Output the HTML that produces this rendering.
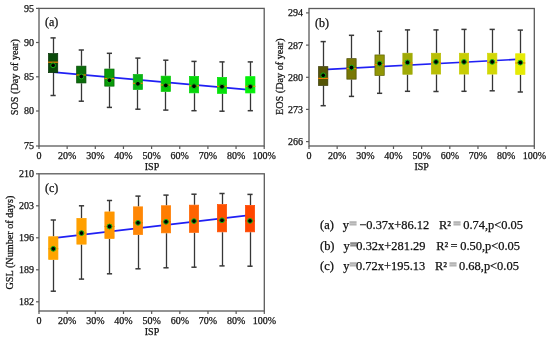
<!DOCTYPE html><html><head><meta charset="utf-8"><style>html,body{margin:0;padding:0;background:#fff;width:550px;height:340px;overflow:hidden}svg{display:block}</style></head><body>
<svg width="550" height="340" viewBox="0 0 550 340" font-family='"Liberation Serif", serif'>
<style>text{stroke:currentColor;stroke-width:0.25px}</style>
<rect width="550" height="340" fill="#fff"/>
<line x1="53.1" y1="72.1" x2="250" y2="89.85" stroke="#2020f4" stroke-width="1.7"/>
<line x1="53.5" y1="37.9" x2="53.5" y2="53.2" stroke="#363636" stroke-width="1.3"/>
<line x1="53.5" y1="73" x2="53.5" y2="95.5" stroke="#363636" stroke-width="1.3"/>
<line x1="50.5" y1="37.9" x2="55.7" y2="37.9" stroke="#383838" stroke-width="1.5"/>
<line x1="50.5" y1="95.5" x2="55.7" y2="95.5" stroke="#383838" stroke-width="1.5"/>
<rect x="48.45" y="53.55" width="9.3" height="19.1" fill="#0a4b0a" stroke="#063006" stroke-width="0.7"/>
<line x1="48.1" y1="62.2" x2="58.1" y2="62.2" stroke="#f08000" stroke-width="1.2"/>
<circle cx="53.1" cy="65.3" r="2.4" fill="#000" stroke="#14b414" stroke-width="1.0"/>
<line x1="81.5" y1="50" x2="81.5" y2="65.8" stroke="#363636" stroke-width="1.3"/>
<line x1="81.5" y1="83.3" x2="81.5" y2="101.2" stroke="#363636" stroke-width="1.3"/>
<line x1="78.7" y1="50" x2="83.9" y2="50" stroke="#383838" stroke-width="1.5"/>
<line x1="78.7" y1="101.2" x2="83.9" y2="101.2" stroke="#383838" stroke-width="1.5"/>
<rect x="76.65" y="66.15" width="9.3" height="16.8" fill="#0a6e0a" stroke="#064706" stroke-width="0.7"/>
<line x1="76.3" y1="75" x2="86.3" y2="75" stroke="#f08000" stroke-width="1.2"/>
<circle cx="81.3" cy="76.5" r="2.4" fill="#000" stroke="#14b414" stroke-width="1.0"/>
<line x1="109.5" y1="53.3" x2="109.5" y2="68.7" stroke="#363636" stroke-width="1.3"/>
<line x1="109.5" y1="86.5" x2="109.5" y2="107.4" stroke="#363636" stroke-width="1.3"/>
<line x1="106.8" y1="53.3" x2="112" y2="53.3" stroke="#383838" stroke-width="1.5"/>
<line x1="106.8" y1="107.4" x2="112" y2="107.4" stroke="#383838" stroke-width="1.5"/>
<rect x="104.75" y="69.05" width="9.3" height="17.1" fill="#0a9b0a" stroke="#066406" stroke-width="0.7"/>
<line x1="104.4" y1="78.5" x2="114.4" y2="78.5" stroke="#f08000" stroke-width="1.2"/>
<circle cx="109.4" cy="80.3" r="2.4" fill="#000" stroke="#14b414" stroke-width="1.0"/>
<line x1="137.5" y1="58.1" x2="137.5" y2="74.1" stroke="#363636" stroke-width="1.3"/>
<line x1="137.5" y1="89.9" x2="137.5" y2="109.2" stroke="#363636" stroke-width="1.3"/>
<line x1="135.3" y1="58.1" x2="140.5" y2="58.1" stroke="#383838" stroke-width="1.5"/>
<line x1="135.3" y1="109.2" x2="140.5" y2="109.2" stroke="#383838" stroke-width="1.5"/>
<rect x="133.25" y="74.45" width="9.3" height="15.1" fill="#0ab414" stroke="#0ab414" stroke-width="0.7"/>
<line x1="132.9" y1="83.3" x2="142.9" y2="83.3" stroke="#f08000" stroke-width="1.2"/>
<circle cx="137.9" cy="83.8" r="2.4" fill="#000" stroke="#14b414" stroke-width="1.0"/>
<line x1="165.5" y1="60.2" x2="165.5" y2="75.8" stroke="#363636" stroke-width="1.3"/>
<line x1="165.5" y1="91.8" x2="165.5" y2="110.1" stroke="#363636" stroke-width="1.3"/>
<line x1="163.2" y1="60.2" x2="168.4" y2="60.2" stroke="#383838" stroke-width="1.5"/>
<line x1="163.2" y1="110.1" x2="168.4" y2="110.1" stroke="#383838" stroke-width="1.5"/>
<rect x="161.15" y="76.15" width="9.3" height="15.3" fill="#05c805" stroke="#05c805" stroke-width="0.7"/>
<line x1="160.8" y1="85" x2="170.8" y2="85" stroke="#f08000" stroke-width="1.2"/>
<circle cx="165.8" cy="85.4" r="2.4" fill="#000" stroke="#14b414" stroke-width="1.0"/>
<line x1="194.5" y1="61.4" x2="194.5" y2="76" stroke="#363636" stroke-width="1.3"/>
<line x1="194.5" y1="93.2" x2="194.5" y2="110.7" stroke="#363636" stroke-width="1.3"/>
<line x1="191.4" y1="61.4" x2="196.6" y2="61.4" stroke="#383838" stroke-width="1.5"/>
<line x1="191.4" y1="110.7" x2="196.6" y2="110.7" stroke="#383838" stroke-width="1.5"/>
<rect x="189.35" y="76.35" width="9.3" height="16.5" fill="#05d70a" stroke="#05d70a" stroke-width="0.7"/>
<line x1="189" y1="85.8" x2="199" y2="85.8" stroke="#f08000" stroke-width="1.2"/>
<circle cx="194" cy="86.2" r="2.4" fill="#000" stroke="#14b414" stroke-width="1.0"/>
<line x1="222.5" y1="61.9" x2="222.5" y2="77" stroke="#363636" stroke-width="1.3"/>
<line x1="222.5" y1="93.7" x2="222.5" y2="111.2" stroke="#363636" stroke-width="1.3"/>
<line x1="219.4" y1="61.9" x2="224.6" y2="61.9" stroke="#383838" stroke-width="1.5"/>
<line x1="219.4" y1="111.2" x2="224.6" y2="111.2" stroke="#383838" stroke-width="1.5"/>
<rect x="217.35" y="77.35" width="9.3" height="16" fill="#05e10a" stroke="#05e10a" stroke-width="0.7"/>
<line x1="217" y1="86.3" x2="227" y2="86.3" stroke="#f08000" stroke-width="1.2"/>
<circle cx="222" cy="86.7" r="2.4" fill="#000" stroke="#14b414" stroke-width="1.0"/>
<line x1="250.5" y1="61.9" x2="250.5" y2="76.3" stroke="#363636" stroke-width="1.3"/>
<line x1="250.5" y1="93.3" x2="250.5" y2="110.7" stroke="#363636" stroke-width="1.3"/>
<line x1="247.7" y1="61.9" x2="252.9" y2="61.9" stroke="#383838" stroke-width="1.5"/>
<line x1="247.7" y1="110.7" x2="252.9" y2="110.7" stroke="#383838" stroke-width="1.5"/>
<rect x="245.65" y="76.65" width="9.3" height="16.3" fill="#05f00a" stroke="#05f00a" stroke-width="0.7"/>
<line x1="245.3" y1="86.3" x2="255.3" y2="86.3" stroke="#f08000" stroke-width="1.2"/>
<circle cx="250.3" cy="86.7" r="2.4" fill="#000" stroke="#14b414" stroke-width="1.0"/>
<rect x="39" y="8.4" width="225.2" height="137.6" fill="none" stroke="#5a5a5a" stroke-width="1.3"/>
<line x1="36" y1="8.4" x2="39" y2="8.4" stroke="#5a5a5a" stroke-width="1.2"/>
<text x="34" y="11.8" font-size="10" text-anchor="end" fill="#111" color="#111">95</text>
<line x1="36" y1="42.5" x2="39" y2="42.5" stroke="#5a5a5a" stroke-width="1.2"/>
<text x="34" y="45.9" font-size="10" text-anchor="end" fill="#111" color="#111">90</text>
<line x1="36" y1="76.8" x2="39" y2="76.8" stroke="#5a5a5a" stroke-width="1.2"/>
<text x="34" y="80.2" font-size="10" text-anchor="end" fill="#111" color="#111">85</text>
<line x1="36" y1="111" x2="39" y2="111" stroke="#5a5a5a" stroke-width="1.2"/>
<text x="34" y="114.4" font-size="10" text-anchor="end" fill="#111" color="#111">80</text>
<line x1="36" y1="146" x2="39" y2="146" stroke="#5a5a5a" stroke-width="1.2"/>
<text x="34" y="149.4" font-size="10" text-anchor="end" fill="#111" color="#111">75</text>
<line x1="39" y1="146" x2="39" y2="149" stroke="#5a5a5a" stroke-width="1.2"/>
<text x="39" y="158.5" font-size="10" text-anchor="middle" fill="#111" color="#111">0</text>
<line x1="67.15" y1="146" x2="67.15" y2="149" stroke="#5a5a5a" stroke-width="1.2"/>
<text x="67.15" y="158.5" font-size="10" text-anchor="middle" fill="#111" color="#111">20%</text>
<line x1="95.3" y1="146" x2="95.3" y2="149" stroke="#5a5a5a" stroke-width="1.2"/>
<text x="95.3" y="158.5" font-size="10" text-anchor="middle" fill="#111" color="#111">30%</text>
<line x1="123.45" y1="146" x2="123.45" y2="149" stroke="#5a5a5a" stroke-width="1.2"/>
<text x="123.45" y="158.5" font-size="10" text-anchor="middle" fill="#111" color="#111">40%</text>
<line x1="151.6" y1="146" x2="151.6" y2="149" stroke="#5a5a5a" stroke-width="1.2"/>
<text x="151.6" y="158.5" font-size="10" text-anchor="middle" fill="#111" color="#111">50%</text>
<line x1="179.75" y1="146" x2="179.75" y2="149" stroke="#5a5a5a" stroke-width="1.2"/>
<text x="179.75" y="158.5" font-size="10" text-anchor="middle" fill="#111" color="#111">60%</text>
<line x1="207.9" y1="146" x2="207.9" y2="149" stroke="#5a5a5a" stroke-width="1.2"/>
<text x="207.9" y="158.5" font-size="10" text-anchor="middle" fill="#111" color="#111">70%</text>
<line x1="236.05" y1="146" x2="236.05" y2="149" stroke="#5a5a5a" stroke-width="1.2"/>
<text x="236.05" y="158.5" font-size="10" text-anchor="middle" fill="#111" color="#111">80%</text>
<line x1="264.2" y1="146" x2="264.2" y2="149" stroke="#5a5a5a" stroke-width="1.2"/>
<text x="264.2" y="158.5" font-size="10" text-anchor="middle" fill="#111" color="#111">100%</text>
<text x="152" y="169.7" font-size="10" text-anchor="middle" fill="#111" color="#111">ISP</text>
<text x="45" y="26" font-size="12" fill="#111" color="#111">(a)</text>
<text transform="translate(17.6 77.2) rotate(-90)" font-size="10.2" text-anchor="middle" fill="#111" color="#111">SOS (Day of year)</text>
<line x1="323.2" y1="69.6" x2="520" y2="59.2" stroke="#2020f4" stroke-width="1.7"/>
<line x1="323.5" y1="41.6" x2="323.5" y2="66.3" stroke="#363636" stroke-width="1.3"/>
<line x1="323.5" y1="85.8" x2="323.5" y2="105.7" stroke="#363636" stroke-width="1.3"/>
<line x1="320.6" y1="41.6" x2="325.8" y2="41.6" stroke="#383838" stroke-width="1.5"/>
<line x1="320.6" y1="105.7" x2="325.8" y2="105.7" stroke="#383838" stroke-width="1.5"/>
<rect x="318.55" y="66.65" width="9.3" height="18.8" fill="#555505" stroke="#373703" stroke-width="0.7"/>
<line x1="318.2" y1="78.4" x2="328.2" y2="78.4" stroke="#f08000" stroke-width="1.2"/>
<circle cx="323.2" cy="75.3" r="2.4" fill="#000" stroke="#14b414" stroke-width="1.0"/>
<line x1="351.5" y1="35.3" x2="351.5" y2="58.3" stroke="#363636" stroke-width="1.3"/>
<line x1="351.5" y1="79.5" x2="351.5" y2="96.4" stroke="#363636" stroke-width="1.3"/>
<line x1="348.9" y1="35.3" x2="354.1" y2="35.3" stroke="#383838" stroke-width="1.5"/>
<line x1="348.9" y1="96.4" x2="354.1" y2="96.4" stroke="#383838" stroke-width="1.5"/>
<rect x="346.85" y="58.65" width="9.3" height="20.5" fill="#787805" stroke="#4e4e03" stroke-width="0.7"/>
<line x1="346.5" y1="68.6" x2="356.5" y2="68.6" stroke="#f08000" stroke-width="1.2"/>
<circle cx="351.5" cy="67.6" r="2.4" fill="#000" stroke="#14b414" stroke-width="1.0"/>
<line x1="379.5" y1="31.3" x2="379.5" y2="54.6" stroke="#363636" stroke-width="1.3"/>
<line x1="379.5" y1="75.8" x2="379.5" y2="93.3" stroke="#363636" stroke-width="1.3"/>
<line x1="377" y1="31.3" x2="382.2" y2="31.3" stroke="#383838" stroke-width="1.5"/>
<line x1="377" y1="93.3" x2="382.2" y2="93.3" stroke="#383838" stroke-width="1.5"/>
<rect x="374.95" y="54.95" width="9.3" height="20.5" fill="#919605" stroke="#5e6103" stroke-width="0.7"/>
<line x1="374.6" y1="64.7" x2="384.6" y2="64.7" stroke="#f08000" stroke-width="1.2"/>
<circle cx="379.6" cy="63.6" r="2.4" fill="#000" stroke="#14b414" stroke-width="1.0"/>
<line x1="407.5" y1="29.9" x2="407.5" y2="52.9" stroke="#363636" stroke-width="1.3"/>
<line x1="407.5" y1="74.6" x2="407.5" y2="91.3" stroke="#363636" stroke-width="1.3"/>
<line x1="404.9" y1="29.9" x2="410.1" y2="29.9" stroke="#383838" stroke-width="1.5"/>
<line x1="404.9" y1="91.3" x2="410.1" y2="91.3" stroke="#383838" stroke-width="1.5"/>
<rect x="402.85" y="53.25" width="9.3" height="21" fill="#a0aa05" stroke="#a0aa05" stroke-width="0.7"/>
<line x1="402.5" y1="63" x2="412.5" y2="63" stroke="#f08000" stroke-width="1.2"/>
<circle cx="407.5" cy="62.4" r="2.4" fill="#000" stroke="#14b414" stroke-width="1.0"/>
<line x1="436.5" y1="29.9" x2="436.5" y2="52.9" stroke="#363636" stroke-width="1.3"/>
<line x1="436.5" y1="74.4" x2="436.5" y2="91.5" stroke="#363636" stroke-width="1.3"/>
<line x1="433.4" y1="29.9" x2="438.6" y2="29.9" stroke="#383838" stroke-width="1.5"/>
<line x1="433.4" y1="91.5" x2="438.6" y2="91.5" stroke="#383838" stroke-width="1.5"/>
<rect x="431.35" y="53.25" width="9.3" height="20.8" fill="#b9be05" stroke="#b9be05" stroke-width="0.7"/>
<line x1="431" y1="62.5" x2="441" y2="62.5" stroke="#f08000" stroke-width="1.2"/>
<circle cx="436" cy="61.9" r="2.4" fill="#000" stroke="#14b414" stroke-width="1.0"/>
<line x1="464.5" y1="29.4" x2="464.5" y2="52.9" stroke="#363636" stroke-width="1.3"/>
<line x1="464.5" y1="74.4" x2="464.5" y2="91.3" stroke="#363636" stroke-width="1.3"/>
<line x1="461.4" y1="29.4" x2="466.6" y2="29.4" stroke="#383838" stroke-width="1.5"/>
<line x1="461.4" y1="91.3" x2="466.6" y2="91.3" stroke="#383838" stroke-width="1.5"/>
<rect x="459.35" y="53.25" width="9.3" height="20.8" fill="#c8cd05" stroke="#c8cd05" stroke-width="0.7"/>
<line x1="459" y1="62.5" x2="469" y2="62.5" stroke="#f08000" stroke-width="1.2"/>
<circle cx="464" cy="61.9" r="2.4" fill="#000" stroke="#14b414" stroke-width="1.0"/>
<line x1="492.5" y1="29.4" x2="492.5" y2="52.9" stroke="#363636" stroke-width="1.3"/>
<line x1="492.5" y1="74.4" x2="492.5" y2="90.8" stroke="#363636" stroke-width="1.3"/>
<line x1="489.6" y1="29.4" x2="494.8" y2="29.4" stroke="#383838" stroke-width="1.5"/>
<line x1="489.6" y1="90.8" x2="494.8" y2="90.8" stroke="#383838" stroke-width="1.5"/>
<rect x="487.55" y="53.25" width="9.3" height="20.8" fill="#d2d705" stroke="#d2d705" stroke-width="0.7"/>
<line x1="487.2" y1="62.5" x2="497.2" y2="62.5" stroke="#f08000" stroke-width="1.2"/>
<circle cx="492.2" cy="61.9" r="2.4" fill="#000" stroke="#14b414" stroke-width="1.0"/>
<line x1="520.5" y1="30.1" x2="520.5" y2="53.4" stroke="#363636" stroke-width="1.3"/>
<line x1="520.5" y1="74.8" x2="520.5" y2="92" stroke="#363636" stroke-width="1.3"/>
<line x1="517.7" y1="30.1" x2="522.9" y2="30.1" stroke="#383838" stroke-width="1.5"/>
<line x1="517.7" y1="92" x2="522.9" y2="92" stroke="#383838" stroke-width="1.5"/>
<rect x="515.65" y="53.75" width="9.3" height="20.7" fill="#e6eb05" stroke="#e6eb05" stroke-width="0.7"/>
<line x1="515.3" y1="63" x2="525.3" y2="63" stroke="#f08000" stroke-width="1.2"/>
<circle cx="520.3" cy="62.6" r="2.4" fill="#000" stroke="#14b414" stroke-width="1.0"/>
<rect x="309" y="8.5" width="225.3" height="137.5" fill="none" stroke="#5a5a5a" stroke-width="1.3"/>
<line x1="306" y1="12.9" x2="309" y2="12.9" stroke="#5a5a5a" stroke-width="1.2"/>
<text x="303.1" y="16.3" font-size="10" text-anchor="end" fill="#111" color="#111">294</text>
<line x1="306" y1="45.1" x2="309" y2="45.1" stroke="#5a5a5a" stroke-width="1.2"/>
<text x="303.1" y="48.5" font-size="10" text-anchor="end" fill="#111" color="#111">287</text>
<line x1="306" y1="77.3" x2="309" y2="77.3" stroke="#5a5a5a" stroke-width="1.2"/>
<text x="303.1" y="80.7" font-size="10" text-anchor="end" fill="#111" color="#111">280</text>
<line x1="306" y1="109.4" x2="309" y2="109.4" stroke="#5a5a5a" stroke-width="1.2"/>
<text x="303.1" y="112.8" font-size="10" text-anchor="end" fill="#111" color="#111">273</text>
<line x1="306" y1="141.6" x2="309" y2="141.6" stroke="#5a5a5a" stroke-width="1.2"/>
<text x="303.1" y="145" font-size="10" text-anchor="end" fill="#111" color="#111">266</text>
<line x1="309" y1="146" x2="309" y2="149" stroke="#5a5a5a" stroke-width="1.2"/>
<text x="309" y="158.5" font-size="10" text-anchor="middle" fill="#111" color="#111">0</text>
<line x1="337.16" y1="146" x2="337.16" y2="149" stroke="#5a5a5a" stroke-width="1.2"/>
<text x="337.16" y="158.5" font-size="10" text-anchor="middle" fill="#111" color="#111">20%</text>
<line x1="365.32" y1="146" x2="365.32" y2="149" stroke="#5a5a5a" stroke-width="1.2"/>
<text x="365.32" y="158.5" font-size="10" text-anchor="middle" fill="#111" color="#111">30%</text>
<line x1="393.49" y1="146" x2="393.49" y2="149" stroke="#5a5a5a" stroke-width="1.2"/>
<text x="393.49" y="158.5" font-size="10" text-anchor="middle" fill="#111" color="#111">40%</text>
<line x1="421.65" y1="146" x2="421.65" y2="149" stroke="#5a5a5a" stroke-width="1.2"/>
<text x="421.65" y="158.5" font-size="10" text-anchor="middle" fill="#111" color="#111">50%</text>
<line x1="449.81" y1="146" x2="449.81" y2="149" stroke="#5a5a5a" stroke-width="1.2"/>
<text x="449.81" y="158.5" font-size="10" text-anchor="middle" fill="#111" color="#111">60%</text>
<line x1="477.97" y1="146" x2="477.97" y2="149" stroke="#5a5a5a" stroke-width="1.2"/>
<text x="477.97" y="158.5" font-size="10" text-anchor="middle" fill="#111" color="#111">70%</text>
<line x1="506.14" y1="146" x2="506.14" y2="149" stroke="#5a5a5a" stroke-width="1.2"/>
<text x="506.14" y="158.5" font-size="10" text-anchor="middle" fill="#111" color="#111">80%</text>
<line x1="534.3" y1="146" x2="534.3" y2="149" stroke="#5a5a5a" stroke-width="1.2"/>
<text x="534.3" y="158.5" font-size="10" text-anchor="middle" fill="#111" color="#111">100%</text>
<text x="421.7" y="169.7" font-size="10" text-anchor="middle" fill="#111" color="#111">ISP</text>
<text x="315" y="27" font-size="12" fill="#111" color="#111">(b)</text>
<text transform="translate(283.3 76.7) rotate(-90)" font-size="10.2" text-anchor="middle" fill="#111" color="#111">EOS (Day of year)</text>
<line x1="53.3" y1="238.2" x2="250" y2="215.15" stroke="#2020f4" stroke-width="1.7"/>
<line x1="53.5" y1="220" x2="53.5" y2="236.4" stroke="#363636" stroke-width="1.3"/>
<line x1="53.5" y1="259.8" x2="53.5" y2="291.2" stroke="#363636" stroke-width="1.3"/>
<line x1="50.7" y1="220" x2="55.9" y2="220" stroke="#383838" stroke-width="1.5"/>
<line x1="50.7" y1="291.2" x2="55.9" y2="291.2" stroke="#383838" stroke-width="1.5"/>
<rect x="48.65" y="236.75" width="9.3" height="22.7" fill="#ffa500" stroke="#ffa500" stroke-width="0.7"/>
<line x1="48.3" y1="248.8" x2="58.3" y2="248.8" stroke="#ed9900" stroke-width="1.2"/>
<circle cx="53.3" cy="248.8" r="2.4" fill="#000" stroke="#14b414" stroke-width="1.0"/>
<line x1="81.5" y1="205.8" x2="81.5" y2="218" stroke="#363636" stroke-width="1.3"/>
<line x1="81.5" y1="244.5" x2="81.5" y2="279.1" stroke="#363636" stroke-width="1.3"/>
<line x1="78.9" y1="205.8" x2="84.1" y2="205.8" stroke="#383838" stroke-width="1.5"/>
<line x1="78.9" y1="279.1" x2="84.1" y2="279.1" stroke="#383838" stroke-width="1.5"/>
<rect x="76.85" y="218.35" width="9.3" height="25.8" fill="#ffa000" stroke="#ffa000" stroke-width="0.7"/>
<line x1="76.5" y1="233.1" x2="86.5" y2="233.1" stroke="#ed9400" stroke-width="1.2"/>
<circle cx="81.5" cy="233.1" r="2.4" fill="#000" stroke="#14b414" stroke-width="1.0"/>
<line x1="109.5" y1="200.5" x2="109.5" y2="211.6" stroke="#363636" stroke-width="1.3"/>
<line x1="109.5" y1="238.9" x2="109.5" y2="273.8" stroke="#363636" stroke-width="1.3"/>
<line x1="106.9" y1="200.5" x2="112.1" y2="200.5" stroke="#383838" stroke-width="1.5"/>
<line x1="106.9" y1="273.8" x2="112.1" y2="273.8" stroke="#383838" stroke-width="1.5"/>
<rect x="104.85" y="211.95" width="9.3" height="26.6" fill="#ff9600" stroke="#ff9600" stroke-width="0.7"/>
<line x1="104.5" y1="226.5" x2="114.5" y2="226.5" stroke="#ed8b00" stroke-width="1.2"/>
<circle cx="109.5" cy="226.5" r="2.4" fill="#000" stroke="#14b414" stroke-width="1.0"/>
<line x1="138.5" y1="196.1" x2="138.5" y2="206.5" stroke="#363636" stroke-width="1.3"/>
<line x1="138.5" y1="234.9" x2="138.5" y2="268.8" stroke="#363636" stroke-width="1.3"/>
<line x1="135.4" y1="196.1" x2="140.6" y2="196.1" stroke="#383838" stroke-width="1.5"/>
<line x1="135.4" y1="268.8" x2="140.6" y2="268.8" stroke="#383838" stroke-width="1.5"/>
<rect x="133.35" y="206.85" width="9.3" height="27.7" fill="#ff8705" stroke="#ff8705" stroke-width="0.7"/>
<line x1="133" y1="222.8" x2="143" y2="222.8" stroke="#ed7d04" stroke-width="1.2"/>
<circle cx="138" cy="222.8" r="2.4" fill="#000" stroke="#14b414" stroke-width="1.0"/>
<line x1="166.5" y1="195.1" x2="166.5" y2="205.4" stroke="#363636" stroke-width="1.3"/>
<line x1="166.5" y1="233.2" x2="166.5" y2="267.8" stroke="#363636" stroke-width="1.3"/>
<line x1="163.4" y1="195.1" x2="168.6" y2="195.1" stroke="#383838" stroke-width="1.5"/>
<line x1="163.4" y1="267.8" x2="168.6" y2="267.8" stroke="#383838" stroke-width="1.5"/>
<rect x="161.35" y="205.75" width="9.3" height="27.1" fill="#ff7d00" stroke="#ff7d00" stroke-width="0.7"/>
<line x1="161" y1="221.8" x2="171" y2="221.8" stroke="#ed7400" stroke-width="1.2"/>
<circle cx="166" cy="221.8" r="2.4" fill="#000" stroke="#14b414" stroke-width="1.0"/>
<line x1="194.5" y1="194.2" x2="194.5" y2="204.8" stroke="#363636" stroke-width="1.3"/>
<line x1="194.5" y1="232.7" x2="194.5" y2="267.2" stroke="#363636" stroke-width="1.3"/>
<line x1="191.4" y1="194.2" x2="196.6" y2="194.2" stroke="#383838" stroke-width="1.5"/>
<line x1="191.4" y1="267.2" x2="196.6" y2="267.2" stroke="#383838" stroke-width="1.5"/>
<rect x="189.35" y="205.15" width="9.3" height="27.2" fill="#ff6400" stroke="#ff6400" stroke-width="0.7"/>
<line x1="189" y1="221.1" x2="199" y2="221.1" stroke="#ed5d00" stroke-width="1.2"/>
<circle cx="194" cy="221.1" r="2.4" fill="#000" stroke="#14b414" stroke-width="1.0"/>
<line x1="222.5" y1="193.5" x2="222.5" y2="204.2" stroke="#363636" stroke-width="1.3"/>
<line x1="222.5" y1="232.2" x2="222.5" y2="265.9" stroke="#363636" stroke-width="1.3"/>
<line x1="219.4" y1="193.5" x2="224.6" y2="193.5" stroke="#383838" stroke-width="1.5"/>
<line x1="219.4" y1="265.9" x2="224.6" y2="265.9" stroke="#383838" stroke-width="1.5"/>
<rect x="217.35" y="204.55" width="9.3" height="27.3" fill="#ff5000" stroke="#ff5000" stroke-width="0.7"/>
<line x1="217" y1="220.3" x2="227" y2="220.3" stroke="#ed4a00" stroke-width="1.2"/>
<circle cx="222" cy="220.3" r="2.4" fill="#000" stroke="#14b414" stroke-width="1.0"/>
<line x1="250.5" y1="194.4" x2="250.5" y2="205" stroke="#363636" stroke-width="1.3"/>
<line x1="250.5" y1="232.2" x2="250.5" y2="266.2" stroke="#363636" stroke-width="1.3"/>
<line x1="247.4" y1="194.4" x2="252.6" y2="194.4" stroke="#383838" stroke-width="1.5"/>
<line x1="247.4" y1="266.2" x2="252.6" y2="266.2" stroke="#383838" stroke-width="1.5"/>
<rect x="245.35" y="205.35" width="9.3" height="26.5" fill="#ff4600" stroke="#ff4600" stroke-width="0.7"/>
<line x1="245" y1="220.9" x2="255" y2="220.9" stroke="#ed4100" stroke-width="1.2"/>
<circle cx="250" cy="220.9" r="2.4" fill="#000" stroke="#14b414" stroke-width="1.0"/>
<rect x="39" y="173.8" width="225.3" height="137.2" fill="none" stroke="#5a5a5a" stroke-width="1.3"/>
<line x1="36" y1="173.8" x2="39" y2="173.8" stroke="#5a5a5a" stroke-width="1.2"/>
<text x="34" y="177.2" font-size="10" text-anchor="end" fill="#111" color="#111">210</text>
<line x1="36" y1="205.8" x2="39" y2="205.8" stroke="#5a5a5a" stroke-width="1.2"/>
<text x="34" y="209.2" font-size="10" text-anchor="end" fill="#111" color="#111">203</text>
<line x1="36" y1="237.8" x2="39" y2="237.8" stroke="#5a5a5a" stroke-width="1.2"/>
<text x="34" y="241.2" font-size="10" text-anchor="end" fill="#111" color="#111">196</text>
<line x1="36" y1="269.8" x2="39" y2="269.8" stroke="#5a5a5a" stroke-width="1.2"/>
<text x="34" y="273.2" font-size="10" text-anchor="end" fill="#111" color="#111">189</text>
<line x1="36" y1="301.8" x2="39" y2="301.8" stroke="#5a5a5a" stroke-width="1.2"/>
<text x="34" y="305.2" font-size="10" text-anchor="end" fill="#111" color="#111">182</text>
<line x1="39" y1="311" x2="39" y2="314" stroke="#5a5a5a" stroke-width="1.2"/>
<text x="39" y="323.5" font-size="10" text-anchor="middle" fill="#111" color="#111">0</text>
<line x1="67.16" y1="311" x2="67.16" y2="314" stroke="#5a5a5a" stroke-width="1.2"/>
<text x="67.16" y="323.5" font-size="10" text-anchor="middle" fill="#111" color="#111">20%</text>
<line x1="95.33" y1="311" x2="95.33" y2="314" stroke="#5a5a5a" stroke-width="1.2"/>
<text x="95.33" y="323.5" font-size="10" text-anchor="middle" fill="#111" color="#111">30%</text>
<line x1="123.49" y1="311" x2="123.49" y2="314" stroke="#5a5a5a" stroke-width="1.2"/>
<text x="123.49" y="323.5" font-size="10" text-anchor="middle" fill="#111" color="#111">40%</text>
<line x1="151.65" y1="311" x2="151.65" y2="314" stroke="#5a5a5a" stroke-width="1.2"/>
<text x="151.65" y="323.5" font-size="10" text-anchor="middle" fill="#111" color="#111">50%</text>
<line x1="179.81" y1="311" x2="179.81" y2="314" stroke="#5a5a5a" stroke-width="1.2"/>
<text x="179.81" y="323.5" font-size="10" text-anchor="middle" fill="#111" color="#111">60%</text>
<line x1="207.98" y1="311" x2="207.98" y2="314" stroke="#5a5a5a" stroke-width="1.2"/>
<text x="207.98" y="323.5" font-size="10" text-anchor="middle" fill="#111" color="#111">70%</text>
<line x1="236.14" y1="311" x2="236.14" y2="314" stroke="#5a5a5a" stroke-width="1.2"/>
<text x="236.14" y="323.5" font-size="10" text-anchor="middle" fill="#111" color="#111">80%</text>
<line x1="264.3" y1="311" x2="264.3" y2="314" stroke="#5a5a5a" stroke-width="1.2"/>
<text x="264.3" y="323.5" font-size="10" text-anchor="middle" fill="#111" color="#111">100%</text>
<text x="152" y="335" font-size="10" text-anchor="middle" fill="#111" color="#111">ISP</text>
<text x="45" y="192" font-size="12" fill="#111" color="#111">(c)</text>
<text transform="translate(12.8 242.6) rotate(-90)" font-size="10.2" text-anchor="middle" fill="#111" color="#111">GSL (Number of days)</text>
<text x="320" y="228.8" font-size="12.45" fill="#111" color="#111">(a)</text>
<text x="342.7" y="228.8" font-size="12.45" fill="#111" color="#111">y</text>
<text x="349.5" y="228.2" font-size="12.45" fill="#b4b4b4" color="#b4b4b4" style="stroke-width:1.3px">=</text>
<text x="359.3" y="228.8" font-size="12.45" fill="#111" color="#111">−0.37x+86.12</text>
<text x="439" y="228.8" font-size="12.45" fill="#111" color="#111">R²</text>
<text x="453.6" y="228.2" font-size="12.45" fill="#b4b4b4" color="#b4b4b4" style="stroke-width:1.3px">=</text>
<text x="463.2" y="228.8" font-size="12.45" fill="#111" color="#111">0.74,p&lt;0.05</text>
<text x="320" y="249.8" font-size="12.45" fill="#111" color="#111">(b)</text>
<text x="343.6" y="249.8" font-size="12.45" fill="#111" color="#111">y</text>
<text x="350.2" y="249.2" font-size="12.45" fill="#8a8a8a" color="#8a8a8a" style="stroke-width:1.3px">=</text>
<text x="356.3" y="249.8" font-size="12.45" fill="#111" color="#111">0.32x+281.29</text>
<text x="436.2" y="249.8" font-size="12.45" fill="#111" color="#111">R²</text>
<text x="450.6" y="249.8" font-size="12.45" fill="#111" color="#111">=</text>
<text x="460.2" y="249.8" font-size="12.45" fill="#111" color="#111">0.50,p&lt;0.05</text>
<text x="320" y="269.9" font-size="12.45" fill="#111" color="#111">(c)</text>
<text x="343.2" y="269.9" font-size="12.45" fill="#111" color="#111">y</text>
<text x="349.8" y="269.3" font-size="12.45" fill="#b4b4b4" color="#b4b4b4" style="stroke-width:1.3px">=</text>
<text x="356" y="269.9" font-size="12.45" fill="#111" color="#111">0.72x+195.13</text>
<text x="435" y="269.9" font-size="12.45" fill="#111" color="#111">R²</text>
<text x="449.4" y="269.3" font-size="12.45" fill="#b4b4b4" color="#b4b4b4" style="stroke-width:1.3px">=</text>
<text x="459" y="269.9" font-size="12.45" fill="#111" color="#111">0.68,p&lt;0.05</text>
</svg></body></html>
